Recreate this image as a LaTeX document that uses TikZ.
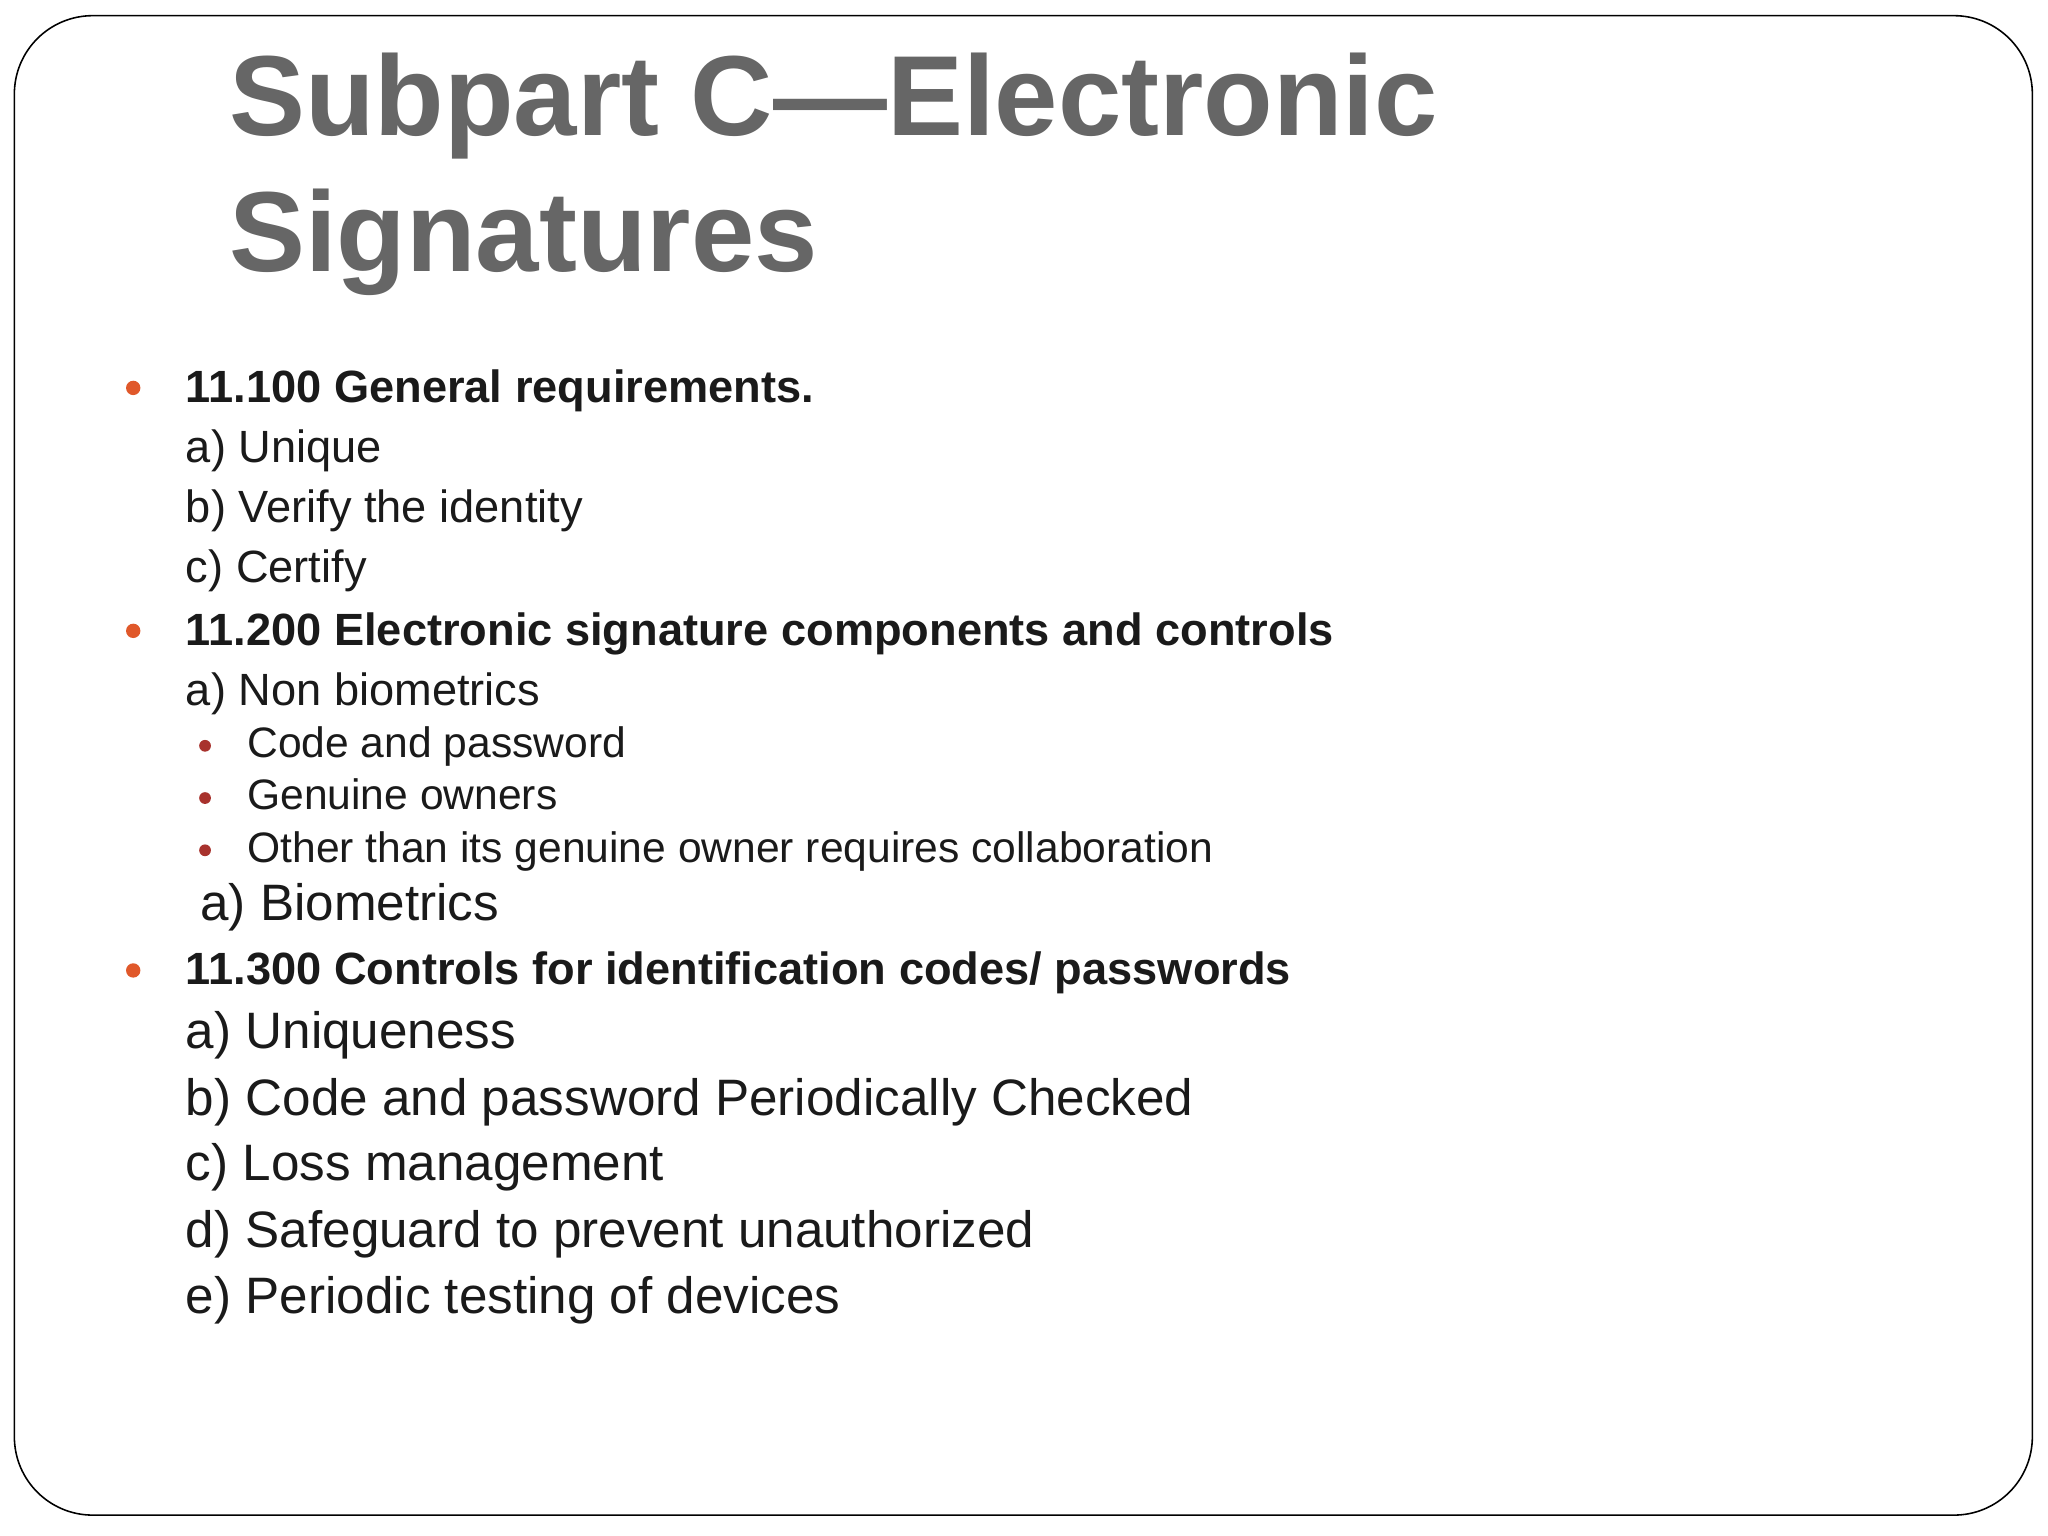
\documentclass[tikz,border=0pt]{standalone}
\usepackage{fontspec}
\setmainfont{Liberation Sans}
\definecolor{titlegray}{HTML}{666666}
\definecolor{txt}{HTML}{1A1A1A}
\definecolor{bulor}{HTML}{E0582A}
\definecolor{bulred}{HTML}{A8322D}
\begin{document}
\begin{tikzpicture}[x=0.5pt,y=-0.5pt,
  t/.style={anchor=base west,inner sep=0,text=txt},
  hd/.style={t,font=\fontsize{17.3}{17}\selectfont\bfseries},
  it/.style={t,font=\fontsize{17.3}{17}\selectfont},
  sb/.style={t,font=\fontsize{16.3}{16}\selectfont},
  lg/.style={t,font=\fontsize{19.6}{19}\selectfont},
  ob/.style={circle,fill=bulor,inner sep=0,minimum size=5.5pt},
  rb/.style={circle,fill=bulred,inner sep=0,minimum size=4.5pt}]
\useasboundingbox (0,0) rectangle (1568,1176);
\fill[white] (0,0) rectangle (1568,1176);
\draw[line width=0.6pt,rounded corners=30pt] (11,12) rectangle (1556,1160);
\node[t,text=titlegray,font=\fontsize{43.6}{44}\selectfont\bfseries] (t1) at (175,104) {Subpart C—Electronic};
\node[t,text=titlegray,font=\fontsize{43.6}{44}\selectfont\bfseries] (t2) at (175,208) {Signatures};
\node[ob] (b1) at (102,297) {};
\node[hd] (h1) at (142,308) {11.100 General requirements.};
\node[it] (i1) at (142,354) {a) Unique};
\node[it] (i2) at (142,400) {b) Verify the identity};
\node[it] (i3) at (142,446) {c) Certify};
\node[ob] (b2) at (102,483) {};
\node[hd] (h2) at (142,494) {11.200 Electronic signature components and controls};
\node[it] (i4) at (142,540) {a) Non biometrics};
\node[rb] (r1) at (157,571) {};
\node[sb] (s1) at (189,580) {Code and password};
\node[rb] (r2) at (157,611) {};
\node[sb] (s2) at (189,620) {Genuine owners};
\node[rb] (r3) at (157,651) {};
\node[sb] (s3) at (189,660) {Other than its genuine owner requires collaboration};
\node[lg] (i5) at (153,705) {a) Biometrics};
\node[ob] (b3) at (102,743) {};
\node[hd] (h3) at (142,754) {11.300 Controls for identification codes/ passwords};
\node[lg] (j1) at (142,803) {a) Uniqueness};
\node[lg] (j2) at (142,854) {b) Code and password Periodically Checked};
\node[lg] (j3) at (142,904) {c) Loss management};
\node[lg] (j4) at (142,955) {d) Safeguard to prevent unauthorized};
\node[lg] (j5) at (142,1006) {e) Periodic testing of devices};
\end{tikzpicture}
\end{document}
